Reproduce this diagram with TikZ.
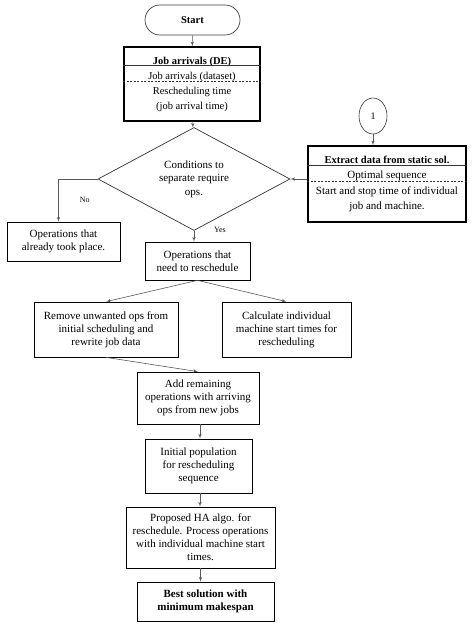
\documentclass[tikz,border=0pt]{standalone}
\usepackage{fontspec}
\setmainfont{Liberation Serif}
\usetikzlibrary{arrows,shapes,calc}

\begin{document}
\begin{tikzpicture}[x=1pt,y=-1pt,>=latex',auto,node distance=70pt,
                    font=\fontsize{11}{13}\selectfont]
  \tikzstyle{every node}=[align=center,text=black]
  \tikzstyle{box}=[rectangle,draw=black,line width=0.7pt]
  \tikzstyle{frame}=[rectangle,draw=black,line width=1.3pt]
  \tikzstyle{sep}=[draw=black!80,line width=0.5pt]
  \tikzstyle{flow}=[draw=black!65,line width=0.6pt]
  \tikzstyle{lbl}=[font=\fontsize{8}{9}\selectfont]

  \useasboundingbox (0,0) rectangle (474,629);

	\node[box, draw=black!75, rounded corners=15pt, minimum width=95pt, minimum height=30pt,
				font=\fontsize{10.5}{13}\selectfont]
				(start) at (192.5,20)					{\textbf{Start}};
	\node[frame, minimum width=136pt, minimum height=74pt, font=\fontsize{10.5}{15}\selectfont]
				(jobs) [node distance=64pt, below of=start, xshift=-0.5pt]
				{\textbf{Job arrivals (DE)}\\Job arrivals (dataset)\\Rescheduling time\\(job arrival time)};
	\node[diamond, draw=black!80, line width=0.7pt, aspect=1.86, inner sep=0pt,
				minimum width=192pt, minimum height=103pt, font=\fontsize{11}{13.5}\selectfont]
				(dia) [node distance=95pt, below of=jobs, xshift=2pt]	{Conditions to\\separate require\\ops.};
	\node[box, minimum width=113pt, minimum height=39pt]
				(done) [node distance=62.5pt, below of=dia, xshift=-130.5pt]	{Operations that\\already took place.};
	\node[box, minimum width=105pt, minimum height=38pt]
				(need) [node distance=82pt, below of=dia, xshift=3.5pt]	{Operations that\\need to reschedule};
	\node[frame, minimum width=158pt, minimum height=76pt, font=\fontsize{11}{15.5}\selectfont]
				(extract) [node distance=193pt, right of=dia, yshift=-5pt]
				{{\fontsize{10.5}{15.5}\selectfont\textbf{Extract data from static sol.}}\\Optimal sequence\\Start and stop time of individual\\job and machine.};
	\node[ellipse, draw=black!80, line width=0.6pt, inner sep=0pt, minimum width=28pt, minimum height=36pt,
				font=\fontsize{10}{12}\selectfont]
				(one) [node distance=68pt, above of=extract, xshift=-14pt]	{1};
	\node[box, minimum width=144pt, minimum height=55pt]
				(remove) [node distance=68.5pt, below of=need, xshift=-91.5pt]
				{Remove unwanted ops from\\initial scheduling and\\rewrite job data};
	\node[box, minimum width=129pt, minimum height=55pt]
				(starts) [node distance=68.5pt, below of=need, xshift=89pt]
				{Calculate individual\\machine start times for\\rescheduling};
	\node[box, minimum width=122pt, minimum height=52pt]
				(add) [node distance=137pt, below of=need, xshift=0.5pt]
				{Add remaining\\operations with arriving\\ops from new jobs};
	\node[box, minimum width=107pt, minimum height=54pt]
				(init) [node distance=68pt, below of=add, xshift=0.5pt]
				{Initial population\\for rescheduling\\sequence};
	\node[box, minimum width=149pt, minimum height=61pt]
				(algo) [node distance=71.5pt, below of=init, xshift=2pt]
				{Proposed HA algo. for\\reschedule. Process operations\\with individual machine start\\times.};
	\node[box, minimum width=137pt, minimum height=39pt]
				(best) [node distance=64pt, below of=algo, xshift=5pt]
				{\textbf{Best solution with}\\\textbf{minimum makespan}};

	\node[lbl]	(no)  at ($(dia.west)+(-13,21)$)	{No};
	\node[lbl]	(yes) at ($(dia.south)+(26,-1)$)	{Yes};

	% inner separators of the two data boxes
	\draw[sep] ($(jobs.north west)+(0,19)$) -- ($(jobs.north east)+(0,19)$);
	\draw[sep, dash pattern=on 2pt off 1.5pt] ($(jobs.north west)+(0,34.5)$) -- ($(jobs.north east)+(0,34.5)$);
	\draw[sep] ($(extract.north west)+(0,20)$) -- ($(extract.north east)+(0,20)$);
	\draw[sep, dash pattern=on 2pt off 1.5pt] ($(extract.north west)+(0,36)$) -- ($(extract.north east)+(0,36)$);

	\path[->]
			(start)	edge  [flow]	node {} (jobs)
			(jobs)	edge  [flow]	node {} (dia)
			(need.south)	edge  [flow]	node {} (remove.north)
					edge  [flow]	node {} (starts.north)
			(remove.south)	edge  [flow]	node {} (add.north);

	\draw[flow,->] (dia.south) -- (dia.south |- need.north);
	\draw[flow,->] (dia.west) -| ([xshift=-5pt]done.north);
	\draw[flow,->] (extract.west |- dia.east) -- (dia.east);
	\draw[flow,->] (one.south) -- (one.south |- extract.north);
	\draw[flow,->] ([xshift=2pt]add.south) -- ([xshift=2pt]add.south |- init.north);
	\draw[flow,->] ([xshift=1.5pt]init.south) -- ([xshift=1.5pt]init.south |- algo.north);
	\draw[flow,->] (algo.south) -- (algo.south |- best.north);

\end{tikzpicture}
\end{document}
